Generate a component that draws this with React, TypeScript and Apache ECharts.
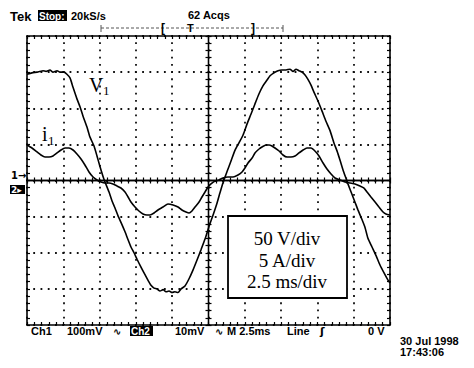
import React, { useEffect, useRef } from "react";
import * as echarts from "echarts";

// Channel 1: voltage v1 (V) vs time (ms)
const vTime = [0, 0.34, 0.69, 0.9, 1.1, 1.31, 1.58, 1.79, 2.07, 2.27, 2.55, 2.75, 2.96, 3.17, 3.44, 3.65, 3.86, 4.13, 4.34, 4.61, 4.82, 5.03, 5.23, 5.37, 5.65, 5.85, 6.06, 6.27, 6.54, 6.75, 6.96, 7.16, 7.37, 7.58, 7.85, 8.06, 8.33, 8.54, 8.75, 8.95, 9.16, 9.37, 9.57, 9.78, 9.99, 10.19, 10.4, 10.61, 10.88, 11.16, 11.43, 11.71, 11.98, 12.26, 12.53, 12.81, 13.09, 13.29, 13.5, 13.77, 14.05, 14.33, 14.6, 14.88, 15.15, 15.43, 15.7, 15.98, 16.25, 16.53, 16.74, 17.01, 17.29, 17.56, 17.84, 18.11, 18.32, 18.53, 18.73, 18.94, 19.15, 19.35, 19.56, 19.77, 20.04, 20.32, 20.59, 20.87, 21.14, 21.35, 21.56, 21.76, 21.97, 22.11, 22.38, 22.59, 22.8, 23.07, 23.28, 23.48, 23.76, 24.04, 24.31, 24.59, 24.86, 25];
const vValues = [147, 149, 150, 151, 152, 151, 153, 150, 152, 150, 150, 147, 142, 129, 113, 102, 89, 74, 60, 48, 34, 19, 6, -2, -16, -28, -38, -49, -61, -71, -82, -92, -100, -109, -120, -128, -138, -145, -149, -150, -153, -151, -154, -153, -155, -154, -155, -150, -146, -136, -124, -110, -96, -81, -64, -48, -31, -17, -3, 12, 27, 42, 52, 63, 78, 92, 106, 120, 131, 139, 145, 149, 152, 153, 153, 154, 151, 154, 152, 150, 146, 140, 132, 122, 110, 96, 82, 69, 52, 41, 28, 15, 3, -5, -19, -30, -41, -54, -65, -80, -92, -104, -117, -128, -138, -142];

// Channel 2: current i1 (A) vs time (ms)
const iTime = [0, 0.34, 0.69, 0.96, 1.24, 1.52, 1.79, 2.07, 2.34, 2.62, 2.89, 3.17, 3.44, 3.72, 3.99, 4.27, 4.55, 4.82, 5.1, 5.37, 5.65, 5.92, 6.2, 6.47, 6.75, 6.96, 7.16, 7.44, 7.71, 7.99, 8.26, 8.47, 8.75, 9.02, 9.37, 9.71, 10.06, 10.4, 10.67, 10.95, 11.16, 11.36, 11.57, 11.85, 12.05, 12.26, 12.47, 12.67, 12.95, 13.22, 13.5, 13.84, 14.19, 14.53, 14.81, 15.01, 15.22, 15.5, 15.7, 15.98, 16.18, 16.46, 16.67, 16.87, 17.08, 17.36, 17.63, 17.91, 18.18, 18.46, 18.73, 19.01, 19.28, 19.56, 19.83, 20.11, 20.39, 20.66, 20.94, 21.21, 21.56, 21.9, 22.25, 22.59, 22.93, 23.21, 23.42, 23.69, 23.97, 24.24, 24.52, 24.72, 25];
const iValues = [4.91, 4.5, 3.95, 3.53, 3.25, 3.25, 3.39, 3.81, 4.22, 4.5, 4.5, 4.22, 3.67, 2.98, 2.15, 1.18, 0.48, 0.07, -0.21, -0.35, -0.35, -0.48, -0.76, -1.04, -1.59, -2.28, -2.98, -3.67, -4.22, -4.64, -4.78, -4.78, -4.5, -4.08, -3.67, -3.25, -3.39, -3.67, -4.08, -4.36, -4.5, -4.22, -3.67, -2.98, -2.28, -1.59, -0.9, -0.48, -0.07, 0.07, 0.35, 0.48, 0.48, 0.76, 1.18, 1.73, 2.42, 3.11, 3.81, 4.36, 4.64, 4.91, 4.91, 4.78, 4.5, 4.08, 3.53, 3.25, 3.25, 3.39, 3.81, 4.22, 4.5, 4.5, 4.08, 3.39, 2.42, 1.59, 0.9, 0.35, 0.07, -0.21, -0.35, -0.48, -0.76, -1.04, -1.59, -2.28, -2.98, -3.67, -4.36, -4.64, -4.78];

const scaleLines = ["50 V/div", "5 A/div", "2.5 ms/div"];
const headerText = { brand: "Tek", state: "Stop:", rate: "20kS/s", acqs: "62 Acqs" };
const footerText = { ch1: "Ch1", ch1Scale: "100mV", ch2: "Ch2", ch2Scale: "10mV", time: "M 2.5ms", source: "Line", level: "0 V" };
const dateText = ["30 Jul 1998", "17:43:06"];

const G = { left: 27, top: 36, width: 363, height: 289 };
const SCOPE_FONT = '"Liberation Sans", Arial, sans-serif';
const SERIF = '"Liberation Serif", "Times New Roman", serif';

function txt(text: string, x: number, y: number, font: string, extra: any = {}) {
  return {
    type: "text",
    x,
    y,
    z: 100,
    style: { text, font, fill: "#000", align: "left", verticalAlign: "middle", ...extra },
  };
}

export default function App() {
  const ref = useRef<HTMLDivElement>(null);
  useEffect(() => {
    if (!ref.current) return;
    const chart = echarts.init(ref.current, null, { renderer: "svg" });
    const borderAxis = (pos: string, extra: any = {}) => ({
      position: pos,
      axisLine: { show: true, onZero: false, lineStyle: { color: "#000", width: 1.6 } },
      axisTick: { show: true, inside: true, length: 3, lineStyle: { color: "#000", width: 1.2 } },
      minorTick: { show: true, splitNumber: 5, length: 3, lineStyle: { color: "#000", width: 1.2 } },
      axisLabel: { show: false },
      splitLine: { show: false },
      ...extra,
    });
    const centerAxis = (pos: string, zeroIdx: number) => ({
      position: pos,
      axisLine: { show: true, onZero: true, onZeroAxisIndex: zeroIdx, lineStyle: { color: "#000", width: 1.3 } },
      axisTick: { show: true, inside: true, length: 3, lineStyle: { color: "#000", width: 1.2 } },
      minorTick: { show: true, splitNumber: 5, length: 3, lineStyle: { color: "#000", width: 1.2 } },
      axisLabel: { show: false },
      splitLine: { show: false },
    });
    const dotted = (period: number) => ({
      show: true,
      lineStyle: { color: "#111", width: 1.8, type: [1.8, period - 1.8], dashOffset: 0.9 },
    });

    const option: any = {
      animation: false,
      backgroundColor: "#fff",
      grid: [
        { ...G, containLabel: false },
        { ...G, containLabel: false },
      ],
      xAxis: [
        { type: "value", gridIndex: 0, min: 0, max: 25, interval: 2.5, ...borderAxis("bottom", { splitLine: dotted(G.height / 40) }) },
        { type: "value", gridIndex: 0, min: 0, max: 25, interval: 2.5, ...borderAxis("top") },
        { type: "value", gridIndex: 1, min: -12.5, max: 12.5, interval: 2.5, ...centerAxis("bottom", 2) },
        { type: "value", gridIndex: 1, min: -12.5, max: 12.5, interval: 2.5, ...centerAxis("top", 3) },
      ],
      yAxis: [
        { type: "value", gridIndex: 0, min: -200, max: 200, interval: 50, ...borderAxis("left", { splitLine: dotted(G.width / 50) }) },
        { type: "value", gridIndex: 0, min: -20, max: 20, interval: 5, ...borderAxis("right") },
        { type: "value", gridIndex: 1, min: -4, max: 4, interval: 1, ...centerAxis("left", 2) },
        { type: "value", gridIndex: 1, min: -4, max: 4, interval: 1, ...centerAxis("right", 3) },
      ],
      series: [
        {
          name: "v1",
          type: "line",
          xAxisIndex: 0,
          yAxisIndex: 0,
          showSymbol: false,
          smooth: 0.2,
          lineStyle: { color: "#000", width: 1.6 },
          data: vTime.map((t, k) => [t, vValues[k]]),
          z: 5,
        },
        {
          name: "i1",
          type: "line",
          xAxisIndex: 0,
          yAxisIndex: 1,
          showSymbol: false,
          smooth: 0.2,
          lineStyle: { color: "#000", width: 1.6 },
          data: iTime.map((t, k) => [t, iValues[k]]),
          z: 5,
        },
      ],
      graphic: [
        // header
        txt(headerText.brand, 10, 16, `bold 13px ${SCOPE_FONT}`),
        { type: "rect", z: 99, shape: { x: 38, y: 10, width: 29, height: 11 }, style: { fill: "#000" } },
        txt(headerText.state, 39, 16, `bold 10px ${SCOPE_FONT}`, { fill: "#fff" }),
        txt(headerText.rate, 71, 16, `bold 11px ${SCOPE_FONT}`),
        txt(headerText.acqs, 188, 15, `bold 11px ${SCOPE_FONT}`),
        // trigger bracket
        { type: "line", z: 99, shape: { x1: 101, y1: 28, x2: 283, y2: 28 }, style: { stroke: "#555", lineWidth: 1, lineDash: [3, 2] } },
        { type: "line", z: 99, shape: { x1: 101, y1: 25, x2: 101, y2: 32 }, style: { stroke: "#555", lineWidth: 1 } },
        { type: "line", z: 99, shape: { x1: 283, y1: 25, x2: 283, y2: 32 }, style: { stroke: "#555", lineWidth: 1 } },
        txt("[", 161, 28, `bold 12px ${SCOPE_FONT}`),
        txt("T", 187, 28, `bold 11px ${SCOPE_FONT}`),
        txt("]", 251, 28, `bold 12px ${SCOPE_FONT}`),
        // channel markers
        txt("1\u2192", 11, 175, `bold 10px "DejaVu Sans", sans-serif`),
        { type: "rect", z: 99, shape: { x: 10, y: 185, width: 15, height: 9 }, style: { fill: "#000" } },
        txt("2\u25B8", 11, 190, `bold 9px "DejaVu Sans", sans-serif`, { fill: "#fff" }),
        // trace labels
        txt("V", 89, 85, `20px ${SERIF}`),
        txt("1", 103, 90, `13px ${SERIF}`),
        txt("i", 42, 134, `20px ${SERIF}`),
        txt("1", 48, 140, `13px ${SERIF}`),
        // scale box
        { type: "rect", z: 98, shape: { x: 228, y: 216, width: 119, height: 82 }, style: { fill: "#fff", stroke: "#000", lineWidth: 1.8 } },
        txt(scaleLines[0], 287, 238, `19px ${SERIF}`, { align: "center" }),
        txt(scaleLines[1], 287, 260, `19px ${SERIF}`, { align: "center" }),
        txt(scaleLines[2], 287, 281, `19px ${SERIF}`, { align: "center" }),
        // footer
        txt(footerText.ch1, 31, 331, `bold 11px ${SCOPE_FONT}`),
        txt(footerText.ch1Scale, 67, 331, `bold 11px ${SCOPE_FONT}`),
        txt("\u223F", 113, 331, `bold 10px "DejaVu Sans", sans-serif`),
        { type: "rect", z: 99, shape: { x: 130, y: 326, width: 23, height: 10 }, style: { fill: "#000" } },
        txt(footerText.ch2, 131, 331, `bold 10px ${SCOPE_FONT}`, { fill: "#fff" }),
        txt(footerText.ch2Scale, 175, 331, `bold 11px ${SCOPE_FONT}`),
        txt("\u223F", 215, 331, `bold 10px "DejaVu Sans", sans-serif`),
        txt(footerText.time, 227, 331, `bold 11px ${SCOPE_FONT}`),
        txt(footerText.source, 287, 331, `bold 11px ${SCOPE_FONT}`),
        txt("\u0283", 320, 331, `bold 11px "DejaVu Sans", sans-serif`),
        txt(footerText.level, 368, 331, `bold 11px ${SCOPE_FONT}`),
        txt(dateText[0], 400, 341, `bold 11px ${SCOPE_FONT}`),
        txt(dateText[1], 400, 352, `bold 11px ${SCOPE_FONT}`),
      ],
    };
    chart.setOption(option);
    return () => chart.dispose();
  }, []);
  return (
    <div
      ref={ref}
      style={{ position: "absolute", left: 0, top: 0, width: 474, height: 368, background: "#fff" }}
    />
  );
}
